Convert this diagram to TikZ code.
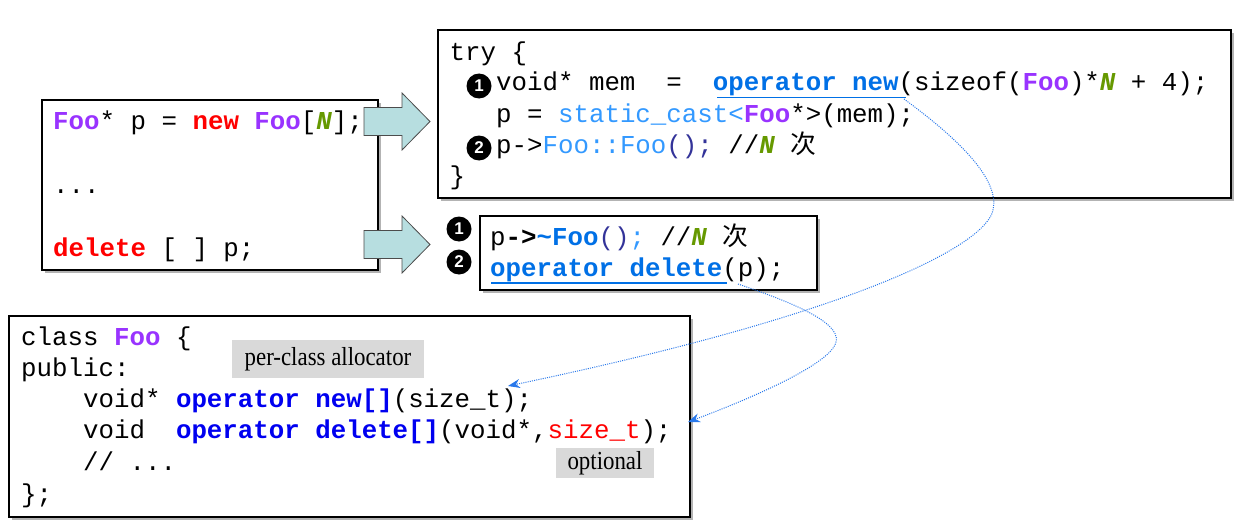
\documentclass[tikz,border=0pt]{standalone}
\usepackage{graphicx}
\usepackage{fontspec}
\setmainfont{Liberation Serif}
\newfontfamily\codefont{Liberation Mono}
\newfontfamily\cjkfont{Noto Sans CJK SC}
\newfontfamily\bulletfont{Liberation Sans}
\usetikzlibrary{arrows.meta,shadows}
\definecolor{foopurple}{RGB}{153,51,255}
\definecolor{kwred}{RGB}{255,0,0}
\definecolor{ngreen}{RGB}{102,153,0}
\definecolor{opblue}{RGB}{0,112,230}
\definecolor{ltblue}{RGB}{51,153,255}
\definecolor{navyp}{RGB}{51,51,153}
\definecolor{cblue}{RGB}{0,0,240}
\definecolor{arrowfill}{RGB}{183,222,224}
\definecolor{conncol}{RGB}{40,120,235}
\definecolor{labelgray}{RGB}{217,217,217}
\newcommand\cFoo{\textcolor{foopurple}{\bfseries Foo}}
\newcommand\cN{\textcolor{ngreen}{\bfseries\itshape N}}
\newcommand\cCi{{\cjkfont 次}}
\newcommand\narrow[1]{\scalebox{0.88}[1]{#1}}
\begin{document}
\begin{tikzpicture}[x=1pt,y=-1pt,
  codebox/.style={draw=black, line width=1.5pt, fill=white, inner sep=0pt,
    drop shadow={shadow xshift=3pt, shadow yshift=-3pt, opacity=0.6, fill=gray}},
  code/.style={anchor=base west, inner sep=0pt, font={\codefont\fontsize{25.8pt}{31pt}\selectfont}},
  lab/.style={fill=labelgray, inner sep=0pt, font={\fontsize{26pt}{28pt}\selectfont}},
  bullet/.style={circle, fill=black, text=white, minimum size=25pt, inner sep=0pt,
    font={\bulletfont\bfseries\fontsize{17pt}{17pt}\selectfont}},
  blockarrow/.style={fill=arrowfill, draw=black!70, line width=0.8pt, line join=miter},
  underl/.style={opblue, line width=1.2pt},
  conn/.style={conncol, line width=1pt, dash pattern=on 1pt off 1.2pt,
    -{Stealth[length=12pt,width=9pt]}}]
\useasboundingbox (0,0) rectangle (1237,527);

% ---------- left box ----------
\node[codebox, minimum width=336pt, minimum height=170pt] (leftbox) at (210,185) {};
\node[code] (l1) at (53,129) {\cFoo*~p~=~\textcolor{kwred}{\bfseries new}~\cFoo[\cN];};
\node[code] (l2) at (53,193) {...};
\node[code] (l3) at (53,256) {\textcolor{kwred}{\bfseries delete}~[~]~p;};

% ---------- block arrows ----------
\draw[blockarrow] (364,107.5) -- (402,107.5) -- (402,93) -- (430,121.5) -- (402,150) -- (402,135.5) -- (364,135.5) -- cycle;
\draw[blockarrow] (364,230.5) -- (402,230.5) -- (402,216) -- (430,244.5) -- (402,273) -- (402,258.5) -- (364,258.5) -- cycle;

% ---------- try box ----------
\node[codebox, minimum width=793pt, minimum height=168pt] (trybox) at (834.5,114) {};
\node[code] (t1) at (449.5,60) {try~\{};
\node[code] (t2) at (449.5,91) {~~~void*~mem~~=~~\textcolor{opblue}{\bfseries operator~new}(sizeof(\cFoo)*\cN~+~4);};
\node[code] (t3) at (449.5,122) {~~~p~=~\textcolor{ltblue}{static\_cast<}\cFoo*>(mem);};
\node[code] (t4) at (449.5,153) {~~~p->\textcolor{ltblue}{Foo::Foo}\textcolor{navyp}{();}~//\cN~\cCi};
\node[code] (t5) at (449.5,184) {\}};
\node[bullet] (b1) at (479,86) {1};
\node[bullet] (b2) at (479,148) {2};
\coordinate (ul1s) at (717,97.5);
\coordinate (ul1e) at (906,97.5);
\draw[underl] (ul1s) -- (ul1e);

% ---------- delete box ----------
\node[codebox, minimum width=337pt, minimum height=74pt] (delbox) at (648.5,253) {};
\node[code] (d1) at (490,245) {p\textbf{->}\textcolor{opblue}{\bfseries\textasciitilde Foo}\textcolor{navyp}{()}\textcolor{ltblue}{;}~//\cN~\cCi};
\node[code] (d2) at (490,276) {\textcolor{opblue}{\bfseries operator~delete}(p);};
\node[bullet] (b3) at (459,229) {1};
\node[bullet] (b4) at (459,262) {2};
\coordinate (ul2s) at (491,283);
\coordinate (ul2e) at (727,283);
\draw[underl] (ul2s) -- (ul2e);

% ---------- class box ----------
\node[codebox, minimum width=681pt, minimum height=201pt] (classbox) at (349.5,416.5) {};
\node[code] (c1) at (21,345) {class~\cFoo~\{};
\node[code] (c2) at (21,376) {public:};
\node[code] (c3) at (21,407) {~~~~void*~\textcolor{cblue}{\bfseries operator~new[]}(size\_t);};
\node[code] (c4) at (21,438) {~~~~void~~\textcolor{cblue}{\bfseries operator~delete[]}(void*,\textcolor{kwred}{size\_t});};
\node[code] (c5) at (21,470) {~~~~//~...};
\node[code] (c6) at (21,502) {\};};

% ---------- labels ----------
\node[lab, minimum width=192pt, minimum height=38pt] (pca) at (328,359) {\narrow{per-class allocator}};
\node[lab, minimum width=98pt, minimum height=30pt] (opt) at (605,463) {\narrow{optional}};

% ---------- connectors ----------
\coordinate (s1) at (904,99);
\coordinate (m1) at (993,210);
\coordinate (e1) at (508,386);
\coordinate (s2) at (738,284);
\coordinate (m2) at (835,345);
\coordinate (e2) at (688,422);
\draw[conn] (s1) .. controls (960,140) and (1000,180) .. (m1)
  .. controls (986,245) and (858,313) .. (e1);
\draw[conn] (s2) .. controls (800,305) and (845,325) .. (m2)
  .. controls (825,365) and (760,395) .. (e2);
\end{tikzpicture}
\end{document}
